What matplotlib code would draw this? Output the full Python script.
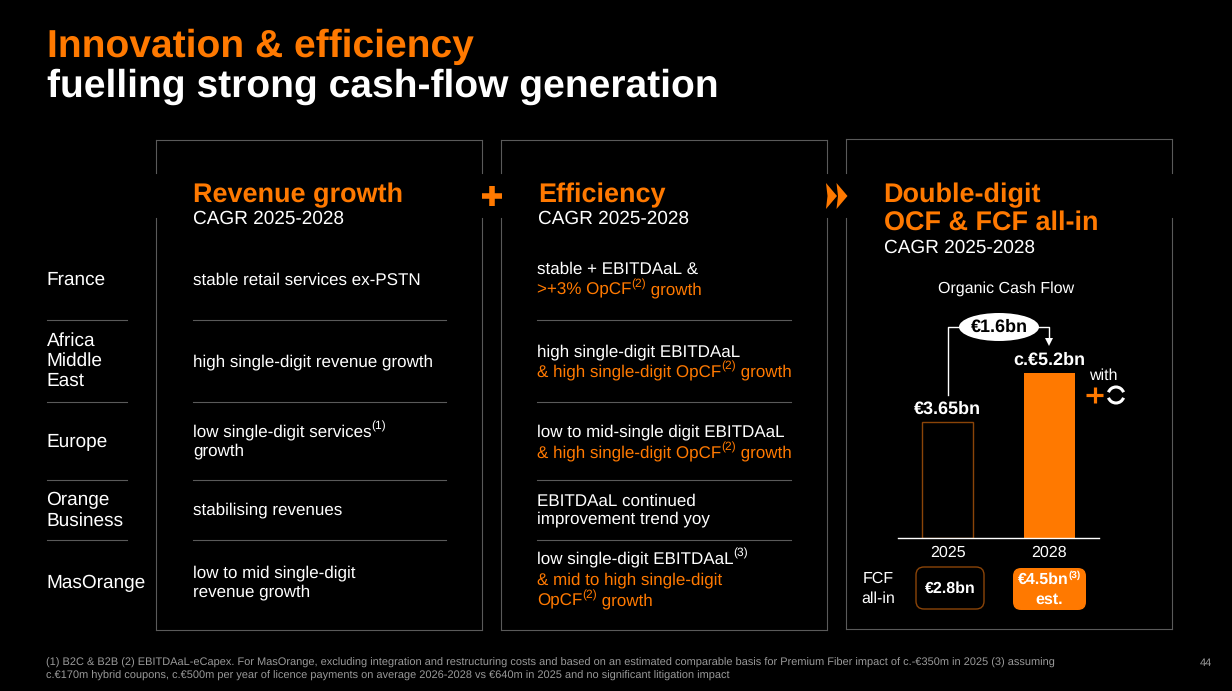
#!/usr/bin/env python3
"""Innovation & efficiency slide: three panels, organic cash flow bars on the right."""

import matplotlib
matplotlib.use("Agg")
import matplotlib.pyplot as plt
from matplotlib.patches import Arc, Ellipse, FancyBboxPatch, Polygon

plt.rcParams["font.family"] = ["Liberation Sans", "DejaVu Sans"]
plt.rcParams["text.hinting"] = "no_hinting"
plt.rcParams["text.hinting_factor"] = 1

ORANGE = "#ff7900"
WHITE = "#ffffff"
LINE = "#5a5a5a"
DARK_ORANGE = "#8a4408"
BODY = 12.4
HEAD = 19.2
CAGR = 13.6

# ==========================
# Data
# ==========================
years = ["2025", "2028"]
ocf_values = [3.65, 5.2]
ocf_labels = ["€3.65bn", "c.€5.2bn"]
ocf_delta = "€1.6bn"
regions = ["France", "Africa\nMiddle\nEast", "Europe", "Orange\nBusiness", "MasOrange"]
revenue_rows = [
    [[("stable retail services ex-PSTN", WHITE)]],
    [[("high single-digit revenue growth", WHITE)]],
    [[("low single-digit services", WHITE), ("(1)", WHITE, "sup")], [("growth", WHITE)]],
    [[("stabilising revenues", WHITE)]],
    [[("low to mid single-digit", WHITE)], [("revenue growth", WHITE)]],
]
efficiency_rows = [
    [[("stable + EBITDAaL &", WHITE)], [(">+3% OpCF", ORANGE), ("(2)", ORANGE, "sup"), (" growth", ORANGE)]],
    [[("high single-digit EBITDAaL", WHITE)], [("& high single-digit OpCF", ORANGE), ("(2)", ORANGE, "sup"), (" growth", ORANGE)]],
    [[("low to mid-single digit EBITDAaL", WHITE)], [("& high single-digit OpCF", ORANGE), ("(2)", ORANGE, "sup"), (" growth", ORANGE)]],
    [[("EBITDAaL continued", WHITE)], [("improvement trend yoy", WHITE)]],
    [[("low single-digit EBITDAaL", WHITE), ("(3)", WHITE, "sup")], [("& mid to high single-digit", ORANGE)], [("OpCF", ORANGE), ("(2)", ORANGE, "sup"), (" growth", ORANGE)]],
]
footnote = [
    "(1) B2C & B2B (2) EBITDAaL-eCapex. For MasOrange, excluding integration and restructuring costs and based on an estimated comparable basis for Premium Fiber impact of c.-€350m in 2025 (3) assuming",
    "c.€170m hybrid coupons, c.€500m per year of licence payments on average 2026-2028 vs €640m in 2025 and no significant litigation impact",
]

region_y = [280, 361, 442, 510.5, 583]
revenue_y = [[280], [362], [432, 451], [510], [573, 592]]
efficiency_y = [[269, 290], [352, 372], [432, 453], [501, 519], [559, 580, 601]]

fig = plt.figure(figsize=(12.32, 6.91), dpi=100, facecolor="black")
ax = fig.add_axes([0, 0, 1, 1])
ax.set_xlim(0, 1232)
ax.set_ylim(691, 0)
ax.axis("off")


def rich_line(x, y, parts, size=BODY, weight="normal"):
    # draws coloured runs one after the other, superscripts smaller and raised
    renderer = fig.canvas.get_renderer()
    for part in parts:
        sup = len(part) > 2
        t = ax.text(x, y - 6 if sup else y, part[0], color=part[1], weight=weight,
                    fontsize=size * 0.7 if sup else size, va="center", ha="left")
        x += t.get_window_extent(renderer).width
    return x


def draw_box(x0, x1, y0, y1):
    ax.plot([x0, x1], [y0, y0], color=LINE, lw=0.8)
    ax.plot([x0, x1], [y1, y1], color=LINE, lw=0.8)
    for x in (x0, x1):
        ax.plot([x, x], [y0, 173], color=LINE, lw=0.8)
        ax.plot([x, x], [218, y1], color=LINE, lw=0.8)


# ----- title -----
ax.text(47, 47, "Innovation & efficiency", color=ORANGE, fontsize=28.2, weight="bold", va="center")
ax.text(47, 87, "fuelling strong cash-flow generation", color=WHITE, fontsize=28.2, weight="bold", va="center")

# ----- panels -----
draw_box(156, 482, 140, 630)
draw_box(501, 827, 140, 630)
draw_box(846, 1172, 139, 629)

ax.text(193, 195, "Revenue growth", color=ORANGE, fontsize=HEAD, weight="bold", va="center")
ax.text(193, 218.5, "CAGR 2025-2028", color=WHITE, fontsize=CAGR, va="center")
ax.text(538.5, 195, "Efficiency", color=ORANGE, fontsize=HEAD, weight="bold", va="center")
ax.text(538.5, 218.5, "CAGR 2025-2028", color=WHITE, fontsize=CAGR, va="center")
ax.text(883.5, 195, "Double-digit", color=ORANGE, fontsize=HEAD, weight="bold", va="center")
ax.text(883.5, 223, "OCF & FCF all-in", color=ORANGE, fontsize=HEAD, weight="bold", va="center")
ax.text(883.5, 247.5, "CAGR 2025-2028", color=WHITE, fontsize=CAGR, va="center")

# plus and chevrons between the panels
ax.plot([482, 502], [196, 196], color=ORANGE, lw=4.0, solid_capstyle="butt")
ax.plot([492, 492], [185.5, 206], color=ORANGE, lw=4.0, solid_capstyle="butt")
for dx in (0, 10.5):
    ax.add_patch(Polygon([[826 + dx, 183], [837 + dx, 196], [826 + dx, 209], [827.5 + dx, 196]],
                         closed=True, color=ORANGE, lw=0))

# ----- rows -----
for name, y in zip(regions, region_y):
    ax.text(46.5, y, name, color=WHITE, fontsize=13.5, va="center", linespacing=1.17)

for y in (320, 402, 480, 540):
    ax.plot([47, 127], [y, y], color=LINE, lw=0.8)
    ax.plot([193, 446], [y, y], color=LINE, lw=0.8)
    ax.plot([537, 791], [y, y], color=LINE, lw=0.8)

for lines, ys in zip(revenue_rows, revenue_y):
    for parts, y in zip(lines, ys):
        rich_line(193, y, parts)
for lines, ys in zip(efficiency_rows, efficiency_y):
    for parts, y in zip(lines, ys):
        rich_line(537, y, parts)

# ----- organic cash flow bars -----
ax.text(1006, 289, "Organic Cash Flow", color=WHITE, fontsize=11.3, ha="center", va="center")

bar_ax = fig.add_axes([898 / 1232, 1 - 538 / 691, 201 / 1232, 190.8 / 691])
bar_ax.set_facecolor("none")
bar_ax.set_xlim(-0.49, 1.49)
bar_ax.set_ylim(0, 6)
bar_ax.bar(0, ocf_values[0], width=0.5, facecolor="black", edgecolor=DARK_ORANGE, lw=1)
bar_ax.bar(1, ocf_values[1], width=0.5, color=ORANGE)
for side in ("top", "left", "right"):
    bar_ax.spines[side].set_visible(False)
bar_ax.spines["bottom"].set_color(WHITE)
bar_ax.spines["bottom"].set_linewidth(1)
bar_ax.set_yticks([])
bar_ax.set_xticks([0, 1], years, color=WHITE, fontsize=11.3)
bar_ax.tick_params(axis="x", length=0, pad=5.3)
for i, label in enumerate(ocf_labels):
    bar_ax.text(i, ocf_values[i] + 0.13, label, color=WHITE, fontsize=13.3, weight="bold", ha="center", va="bottom")

# callout
ax.plot([948, 948, 965], [395, 327, 327], color=WHITE, lw=1)
ax.plot([1035, 1049, 1049], [327, 327, 339], color=WHITE, lw=1)
ax.add_patch(Polygon([[1045, 338], [1053, 338], [1049, 346]], closed=True, color=WHITE, lw=0))
ax.add_patch(Ellipse((999, 327), 80, 28, color=WHITE, lw=0))
ax.text(999, 327.5, ocf_delta, color="black", fontsize=13.3, weight="bold", ha="center", va="center")

# "with" logos
ax.text(1103, 376, "with", color=WHITE, fontsize=11.3, ha="center", va="center")
ax.plot([1086, 1103], [395, 395], color=ORANGE, lw=2.3, solid_capstyle="butt")
ax.plot([1094.5, 1094.5], [387, 403], color=ORANGE, lw=2.3, solid_capstyle="butt")
ax.add_patch(Arc((1116, 395), 16, 16, theta1=20, theta2=160, color=WHITE, lw=2.2))
ax.add_patch(Arc((1116, 395), 16, 16, theta1=200, theta2=340, color=WHITE, lw=2.2))

# FCF row
ax.text(878, 589, "FCF\nall-in", color=WHITE, fontsize=11.3, ha="center", va="center", ma="center", linespacing=1.45)
ax.add_patch(FancyBboxPatch((916, 567), 68, 42, boxstyle="round,pad=0,rounding_size=8",
                            facecolor="black", edgecolor=DARK_ORANGE, lw=1))
ax.add_patch(FancyBboxPatch((1013, 568), 73, 42, boxstyle="round,pad=0,rounding_size=8",
                            facecolor=ORANGE, edgecolor="none"))
ax.text(950, 588.5, "€2.8bn", color=WHITE, fontsize=11.5, weight="bold", ha="center", va="center")
end = rich_line(1018, 580, [("€4.5bn", WHITE)], size=11.5, weight="bold")
ax.text(end, 575, "(3)", color=WHITE, fontsize=7.5, weight="bold", ha="left", va="center")
ax.text(1049, 599.5, "est.", color=WHITE, fontsize=11.5, weight="bold", ha="center", va="center")

# ----- footer -----
ax.text(46, 663, footnote[0], color="#9a9a9a", fontsize=7.7, va="center")
ax.text(46, 676, footnote[1], color="#9a9a9a", fontsize=7.7, va="center")
ax.text(1212, 663, "44", color="#9a9a9a", fontsize=7.7, ha="right", va="center")

fig.savefig("out.png", dpi=100, facecolor="black")
